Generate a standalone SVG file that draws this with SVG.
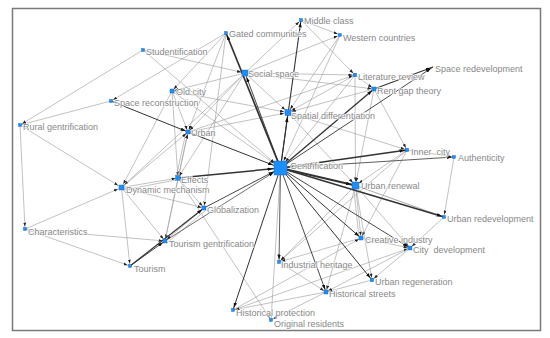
<svg xmlns="http://www.w3.org/2000/svg" width="550" height="338" viewBox="0 0 550 338">
<style>
.e{stroke:#a0a0a0;stroke-width:0.65;fill:none}
.d{stroke:#333;fill:none}
.n{fill:#1a8fff;stroke:#1464b4;stroke-width:0.4}
.t{font-family:"Liberation Sans",Arial,sans-serif;font-size:9px;fill:#888;stroke:#fff;stroke-width:1.2px;paint-order:stroke;stroke-linejoin:round}
.pre{white-space:pre}
</style>
<defs>
<marker id="a" markerUnits="userSpaceOnUse" markerWidth="4" markerHeight="3" viewBox="0 0 4 3" refX="6.5" refY="1.5" orient="auto"><path d="M0,0L4,1.5L0,3z" fill="#222"/></marker>
<marker id="b" markerUnits="userSpaceOnUse" markerWidth="4" markerHeight="3" viewBox="0 0 4 3" refX="8" refY="1.5" orient="auto"><path d="M0,0L4,1.5L0,3z" fill="#222"/></marker>
<marker id="c" markerUnits="userSpaceOnUse" markerWidth="4" markerHeight="3" viewBox="0 0 4 3" refX="12" refY="1.5" orient="auto"><path d="M0,0L4,1.5L0,3z" fill="#222"/></marker>
<marker id="da" markerUnits="userSpaceOnUse" markerWidth="5" markerHeight="3.5" viewBox="0 0 5 3.5" refX="7.5" refY="1.75" orient="auto"><path d="M0,0L5,1.75L0,3.5z" fill="#111"/></marker>
<marker id="db" markerUnits="userSpaceOnUse" markerWidth="5" markerHeight="3.5" viewBox="0 0 5 3.5" refX="9.5" refY="1.75" orient="auto"><path d="M0,0L5,1.75L0,3.5z" fill="#111"/></marker>
<marker id="dc" markerUnits="userSpaceOnUse" markerWidth="5" markerHeight="3.5" viewBox="0 0 5 3.5" refX="13" refY="1.75" orient="auto"><path d="M0,0L5,1.75L0,3.5z" fill="#111"/></marker>
</defs>
<rect x="0" y="0" width="550" height="338" fill="#fff"/>
<rect x="12.5" y="8.5" width="528" height="322" fill="#fff" stroke="#7a7a7a" stroke-width="1.5"/>
<g id="connectors">
<g class="e">
<line x1="143" y1="50" x2="20" y2="125" marker-end="url(#a)"/>
<line x1="111" y1="101" x2="20" y2="125" marker-end="url(#a)"/>
<line x1="20" y1="125" x2="25" y2="229" marker-end="url(#a)"/>
<line x1="20" y1="125" x2="121.5" y2="187.5" marker-end="url(#b)"/>
<line x1="143" y1="50" x2="245" y2="73" marker-end="url(#b)"/>
<line x1="143" y1="50" x2="280.5" y2="168" marker-end="url(#c)"/>
<line x1="226" y1="33" x2="172" y2="91" marker-end="url(#a)"/>
<line x1="226" y1="33" x2="188" y2="132" marker-end="url(#a)"/>
<line x1="226" y1="33" x2="204" y2="208" marker-end="url(#a)"/>
<line x1="226" y1="33" x2="111" y2="101" marker-end="url(#a)"/>
<line x1="172" y1="91" x2="121.5" y2="187.5" marker-end="url(#b)"/>
<line x1="245" y1="73" x2="172" y2="91" marker-end="url(#a)"/>
<line x1="245" y1="73" x2="301" y2="20" marker-end="url(#a)"/>
<line x1="245" y1="73" x2="340" y2="35" marker-end="url(#a)"/>
<line x1="245" y1="73" x2="355" y2="75" marker-end="url(#a)"/>
<line x1="245" y1="73" x2="288" y2="112.5" marker-end="url(#b)"/>
<line x1="245" y1="73" x2="188" y2="132" marker-end="url(#a)"/>
<line x1="245" y1="73" x2="178" y2="178" marker-end="url(#a)"/>
<line x1="245" y1="73" x2="121.5" y2="187.5" marker-end="url(#b)"/>
<line x1="245" y1="73" x2="374" y2="89" marker-end="url(#a)"/>
<line x1="301" y1="20" x2="340" y2="35" marker-end="url(#a)"/>
<line x1="301" y1="20" x2="355" y2="75" marker-end="url(#a)"/>
<line x1="340" y1="35" x2="280.5" y2="168" marker-end="url(#c)"/>
<line x1="340" y1="35" x2="288" y2="112.5" marker-end="url(#b)"/>
<line x1="355" y1="75" x2="288" y2="112.5" marker-end="url(#b)"/>
<line x1="355" y1="75" x2="355.5" y2="185.5" marker-end="url(#b)"/>
<line x1="355" y1="75" x2="374" y2="89" marker-end="url(#a)"/>
<line x1="355" y1="75" x2="280.5" y2="168" marker-end="url(#c)"/>
<line x1="188" y1="132" x2="355" y2="75" marker-end="url(#a)"/>
<line x1="188" y1="132" x2="288" y2="112.5" marker-end="url(#b)"/>
<line x1="172" y1="91" x2="288" y2="112.5" marker-end="url(#b)"/>
<line x1="172" y1="91" x2="280.5" y2="168" marker-end="url(#c)"/>
<line x1="172" y1="91" x2="188" y2="132" marker-end="url(#a)"/>
<line x1="172" y1="91" x2="178" y2="178" marker-end="url(#a)"/>
<line x1="374" y1="89" x2="288" y2="112.5" marker-end="url(#b)"/>
<line x1="374" y1="89" x2="407" y2="150" marker-end="url(#a)"/>
<line x1="374" y1="89" x2="355.5" y2="185.5" marker-end="url(#b)"/>
<line x1="288" y1="112.5" x2="407" y2="150" marker-end="url(#a)"/>
<line x1="288" y1="112.5" x2="355.5" y2="185.5" marker-end="url(#b)"/>
<line x1="407" y1="150" x2="454" y2="157" marker-end="url(#a)"/>
<line x1="407" y1="150" x2="355.5" y2="185.5" marker-end="url(#b)"/>
<line x1="407" y1="150" x2="361" y2="238" marker-end="url(#a)"/>
<line x1="407" y1="150" x2="279" y2="262" marker-end="url(#a)"/>
<line x1="454" y1="157" x2="444" y2="217" marker-end="url(#a)"/>
<line x1="444" y1="217" x2="410" y2="248" marker-end="url(#a)"/>
<line x1="355.5" y1="185.5" x2="444" y2="217" marker-end="url(#a)" style="stroke-width:0.9"/>
<line x1="355.5" y1="185.5" x2="361" y2="238" marker-end="url(#a)"/>
<line x1="353.5" y1="186" x2="359" y2="238"/>
<line x1="355.5" y1="185.5" x2="410" y2="248" marker-end="url(#a)"/>
<line x1="355.5" y1="185.5" x2="372" y2="280" marker-end="url(#a)"/>
<line x1="355.5" y1="185.5" x2="326" y2="292" marker-end="url(#a)"/>
<line x1="355.5" y1="185.5" x2="279" y2="262" marker-end="url(#a)"/>
<line x1="361" y1="238" x2="279" y2="262" marker-end="url(#a)"/>
<line x1="361" y1="238" x2="410" y2="248" marker-end="url(#a)"/>
<line x1="233" y1="310" x2="361" y2="238" marker-end="url(#a)"/>
<line x1="233" y1="310" x2="410" y2="248" marker-end="url(#a)"/>
<line x1="410" y1="248" x2="326" y2="292" marker-end="url(#a)"/>
<line x1="410" y1="248" x2="372" y2="280" marker-end="url(#a)"/>
<line x1="372" y1="280" x2="326" y2="292" marker-end="url(#a)"/>
<line x1="279" y1="262" x2="326" y2="292" marker-end="url(#a)"/>
<line x1="326" y1="292" x2="233" y2="310" marker-end="url(#a)"/>
<line x1="326" y1="292" x2="271" y2="320" marker-end="url(#a)"/>
<line x1="280.5" y1="168" x2="271" y2="320" marker-end="url(#a)"/>
<line x1="178" y1="178" x2="271" y2="320" marker-end="url(#a)"/>
<line x1="204" y1="208" x2="165" y2="241" marker-end="url(#a)"/>
<line x1="206" y1="210" x2="167" y2="243"/>
<line x1="178" y1="178" x2="188" y2="132" marker-end="url(#a)"/>
<line x1="176" y1="178" x2="186" y2="132"/>
<line x1="178" y1="178" x2="204" y2="208" marker-end="url(#a)"/>
<line x1="178" y1="178" x2="165" y2="241" marker-end="url(#a)"/>
<line x1="121.5" y1="187.5" x2="178" y2="178" marker-end="url(#a)"/>
<line x1="124" y1="190" x2="176" y2="180"/>
<line x1="121.5" y1="187.5" x2="204" y2="208" marker-end="url(#a)"/>
<line x1="121.5" y1="187.5" x2="188" y2="132" marker-end="url(#a)"/>
<line x1="121.5" y1="187.5" x2="130" y2="266" marker-end="url(#a)"/>
<line x1="121.5" y1="187.5" x2="165" y2="241" marker-end="url(#a)"/>
<line x1="25" y1="229" x2="121.5" y2="187.5" marker-end="url(#b)"/>
<line x1="25" y1="229" x2="165" y2="241" marker-end="url(#a)"/>
<line x1="25" y1="229" x2="130" y2="266" marker-end="url(#a)"/>
<line x1="165" y1="241" x2="188" y2="132" marker-end="url(#a)"/>
</g>
<g class="d">
<line x1="280.5" y1="168" x2="226" y2="33" style="stroke-width:1.7" marker-end="url(#da)"/>
<line x1="280.5" y1="168" x2="245" y2="73" style="stroke-width:0.9" marker-end="url(#db)"/>
<line x1="280.5" y1="168" x2="301" y2="20" style="stroke-width:1.1" marker-end="url(#da)"/>
<line x1="280.5" y1="168" x2="288" y2="112.5" style="stroke-width:1" marker-end="url(#db)"/>
<line x1="280.5" y1="168" x2="374" y2="89" style="stroke-width:1.3" marker-end="url(#da)"/>
<line x1="280.5" y1="168" x2="433" y2="67" style="stroke-width:0.9" marker-end="url(#da)"/>
<line x1="280.5" y1="168" x2="407" y2="150" style="stroke-width:1.3" marker-end="url(#da)"/>
<line x1="280.5" y1="168" x2="454" y2="157" style="stroke-width:0.8" marker-end="url(#da)"/>
<line x1="280.5" y1="168" x2="355.5" y2="185.5" style="stroke-width:1.9" marker-end="url(#db)"/>
<line x1="280.5" y1="168" x2="444" y2="217" style="stroke-width:1.5" marker-end="url(#da)"/>
<line x1="280.5" y1="168" x2="361" y2="238" style="stroke-width:1" marker-end="url(#da)"/>
<line x1="280.5" y1="168" x2="410" y2="248" style="stroke-width:0.9" marker-end="url(#da)"/>
<line x1="280.5" y1="168" x2="372" y2="280" style="stroke-width:1" marker-end="url(#da)"/>
<line x1="280.5" y1="168" x2="326" y2="292" style="stroke-width:0.9" marker-end="url(#da)"/>
<line x1="280.5" y1="168" x2="279" y2="262" style="stroke-width:0.8" marker-end="url(#da)"/>
<line x1="280.5" y1="168" x2="233" y2="310" style="stroke-width:1" marker-end="url(#da)"/>
<line x1="178" y1="178" x2="280.5" y2="168" style="stroke-width:1.5" marker-end="url(#dc)"/>
<line x1="188" y1="132" x2="280.5" y2="168" style="stroke-width:1" marker-end="url(#dc)"/>
<line x1="204" y1="208" x2="280.5" y2="168" style="stroke-width:0.9" marker-end="url(#dc)"/>
<line x1="165" y1="241" x2="280.5" y2="168" style="stroke-width:0.7" marker-end="url(#dc)"/>
<line x1="130" y1="266" x2="204" y2="208" style="stroke-width:1.2" marker-end="url(#da)"/>
<line x1="130" y1="266" x2="165" y2="241" style="stroke-width:0.9" marker-end="url(#da)"/>
<line x1="111" y1="101" x2="188" y2="132" style="stroke-width:1" marker-end="url(#da)"/>
<line x1="374" y1="89" x2="433" y2="67" style="stroke-width:1.1" marker-end="url(#da)"/>
</g>
</g>
<g id="n-gentrification"><rect class="n" x="274" y="161" width="13" height="14"/><text class="t" x="290" y="168.5">Gentrification</text></g>
<g id="n-gated-communities"><rect class="n" x="224.5" y="31.5" width="3" height="3"/><text class="t" x="229" y="36.5">Gated communities</text></g>
<g id="n-studentification"><rect class="n" x="141.5" y="48.5" width="3" height="3"/><text class="t" x="146" y="55">Studentification</text></g>
<g id="n-social-space"><rect class="n" x="242" y="70" width="6" height="6"/><text class="t" x="248" y="76.5">Social space</text></g>
<g id="n-old-city"><rect class="n" x="170" y="89" width="4" height="4"/><text class="t" x="176" y="95">Old city</text></g>
<g id="n-space-reconstruction"><rect class="n" x="109.5" y="99.5" width="3" height="3"/><text class="t" x="114" y="106">Space reconstruction</text></g>
<g id="n-rural-gentrification"><rect class="n" x="18.5" y="123.5" width="3" height="3"/><text class="t" x="23" y="130">Rural gentrification</text></g>
<g id="n-urban"><rect class="n" x="186" y="130" width="4" height="4"/><text class="t" x="191" y="136">Urban</text></g>
<g id="n-middle-class"><rect class="n" x="299.5" y="18.5" width="3" height="3"/><text class="t" x="304" y="23.5">Middle class</text></g>
<g id="n-western-countries"><rect class="n" x="338.5" y="33.5" width="3" height="3"/><text class="t" x="343" y="41">Western countries</text></g>
<g id="n-literature-review"><rect class="n" x="353.2" y="73.2" width="3.5" height="3.5"/><text class="t" x="358" y="80">Literature review</text></g>
<g id="n-space-redevelopment"><text class="t" x="435" y="72">Space redevelopment</text></g>
<g id="n-rent-gap-theory"><rect class="n" x="372" y="87" width="4" height="4"/><text class="t" x="377" y="94">Rent gap theory</text></g>
<g id="n-spatial-differentiation"><rect class="n" x="285" y="109.5" width="6" height="6"/><text class="t" x="291" y="118.5">Spatial differentiation</text></g>
<g id="n-inner-city"><rect class="n" x="405.2" y="148.2" width="3.5" height="3.5"/><text class="t pre" x="411" y="155">Inner  city</text></g>
<g id="n-authenticity"><rect class="n" x="452.5" y="155.5" width="3" height="3"/><text class="t" x="458" y="161">Authenticity</text></g>
<g id="n-urban-renewal"><rect class="n" x="352" y="182" width="7" height="7"/><text class="t" x="361" y="189">Urban renewal</text></g>
<g id="n-urban-redevelopment"><rect class="n" x="442.5" y="215.5" width="3" height="3"/><text class="t" x="447" y="222">Urban redevelopment</text></g>
<g id="n-creative-industry"><rect class="n" x="359" y="236" width="4" height="4"/><text class="t" x="365" y="243">Creative industry</text></g>
<g id="n-city-development"><rect class="n" x="408" y="246" width="4" height="4"/><text class="t pre" x="413" y="253">City  development</text></g>
<g id="n-industrial-heritage"><rect class="n" x="277.5" y="260.5" width="3" height="3"/><text class="t" x="281" y="268">Industrial heritage</text></g>
<g id="n-urban-regeneration"><rect class="n" x="370.2" y="278.2" width="3.5" height="3.5"/><text class="t" x="375" y="285">Urban regeneration</text></g>
<g id="n-historical-streets"><rect class="n" x="324" y="290" width="4" height="4"/><text class="t" x="329" y="297">Historical streets</text></g>
<g id="n-historical-protection"><rect class="n" x="231.5" y="308.5" width="3" height="3"/><text class="t" x="236" y="316">Historical protection</text></g>
<g id="n-original-residents"><rect class="n" x="269.5" y="318.5" width="3" height="3"/><text class="t" x="274" y="327">Original residents</text></g>
<g id="n-effects"><rect class="n" x="175.7" y="175.7" width="4.5" height="4.5"/><text class="t" x="181" y="183">Effects</text></g>
<g id="n-dynamic-mechanism"><rect class="n" x="119" y="185" width="5" height="5"/><text class="t" x="126" y="192.5">Dynamic mechanism</text></g>
<g id="n-globalization"><rect class="n" x="202" y="206" width="4" height="4"/><text class="t" x="207" y="213">Globalization</text></g>
<g id="n-characteristics"><rect class="n" x="23.5" y="227.5" width="3" height="3"/><text class="t" x="28" y="235">Characteristics</text></g>
<g id="n-tourism-gentrification"><rect class="n" x="163" y="239" width="4" height="4"/><text class="t" x="169" y="247">Tourism gentrification</text></g>
<g id="n-tourism"><rect class="n" x="128.5" y="264.5" width="3" height="3"/><text class="t" x="134" y="272">Tourism</text></g>
</svg>
